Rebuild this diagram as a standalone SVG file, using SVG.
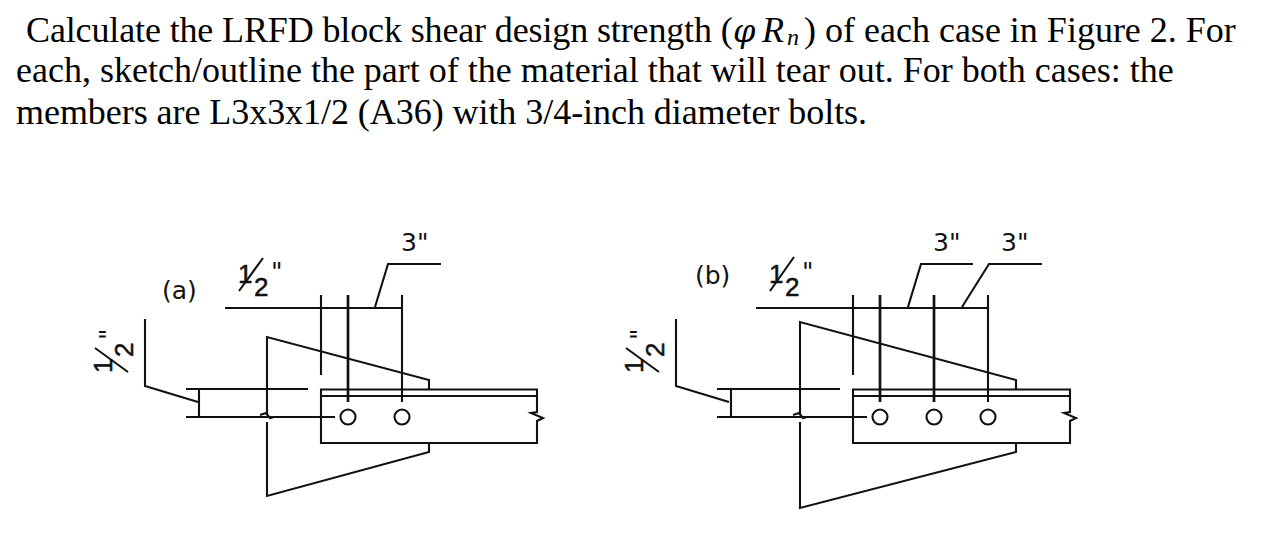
<svg xmlns="http://www.w3.org/2000/svg" width="1280" height="538" viewBox="0 0 1280 538">
<style>
.q{font-family:"Liberation Serif","Times New Roman",serif;font-size:36px;fill:#000}
.m{font-style:italic}
.d{font-family:"DejaVu Sans",sans-serif;fill:#111;font-size:25px}
.o{font-family:"Liberation Sans",Arial,sans-serif;fill:#111;font-size:26px;stroke:#111;stroke-width:.5}
.s{fill:none;stroke:#111;stroke-width:2.1}
.h{fill:none;stroke:#111;stroke-width:2.7}
</style>
<rect width="1280" height="538" fill="#fff"/>
<g id="question">
<text class="q" x="26" y="42" letter-spacing="-0.13">Calculate the LRFD block shear design strength (<tspan class="m" x="733" font-size="32" font-family="DejaVu Serif">φ</tspan><tspan class="m" x="762">R</tspan><tspan class="m" font-size="24" x="787" dy="3">n</tspan><tspan x="804" dy="-3" letter-spacing="0">) of each case in Figure 2. For</tspan></text>
<text class="q" x="16" y="82">each, sketch/outline the part of the material that will tear out. For both cases: the</text>
<text class="q" x="16" y="124" letter-spacing="-0.05">members are L3x3x1/2 (A36) with 3/4-inch diameter bolts.</text>
</g>
<g id="case-a">
<g id="a-gusset" class="s"><path d="M429 389V380L267 337V415M267 422V496L429 452V443"/><path d="M260 415L266 413L270 418L274 417"/></g>
<g id="a-angle" class="s"><path d="M321 389.5H537V412L531 413L543 418L537 421V443H321ZM321 396H537"/></g>
<g id="a-beam" class="s"><path d="M186 389H308M186 417H335M199 389V417"/></g>
<g id="a-bolts" class="s"><circle cx="348" cy="417" r="7.5"/><circle cx="402" cy="417" r="7.5"/></g>
<g id="a-dims"><path class="s" d="M225 308H402M375 307L388 264H441M145 319V386L198 402"/><path class="s" d="M321 295V375M402 295V402"/><path class="h" d="M348 295V402"/></g>
<g id="a-labels">
<text class="d" x="162" y="299">(a)</text>
<text class="d" x="401" y="251">3"</text>
<g><text class="o" x="238" y="283">1</text><path class="s" d="M239 291L263 258"/><text class="o" x="254" y="296">2</text><text class="d" x="271" y="280" font-size="16">"</text></g>
<g transform="rotate(-90 113 353)"><text class="o" x="93" y="352">1</text><path class="s" d="M94 368L118 335"/><text class="o" x="109" y="373">2</text><text class="d" x="126" y="357" font-size="16">"</text></g>
</g>
</g>
<g id="case-b">
<g id="b-gusset" class="s"><path d="M1016 389V380L800 322V415M800 422V508L1016 452V443"/><path d="M793 415L799 413L803 418L807 417"/></g>
<g id="b-angle" class="s"><path d="M853 389.5H1070V412L1064 413L1076 418L1070 421V443H853ZM853 396H1070"/></g>
<g id="b-beam" class="s"><path d="M717 389H840M717 417H867M731 389V417"/></g>
<g id="b-bolts" class="s"><circle cx="880" cy="417" r="7.5"/><circle cx="934" cy="417" r="7.5"/><circle cx="988" cy="417" r="7.5"/></g>
<g id="b-dims"><path class="s" d="M756 308H988M908 307L921 264H973M962 307L989 264H1042M676 319V386L729 402"/><path class="s" d="M853 295V375M988 295V402"/><path class="h" d="M880 295V402M934 295V402"/></g>
<g id="b-labels">
<text class="d" x="695" y="284">(b)</text>
<text class="d" x="933" y="251">3"</text>
<text class="d" x="1001" y="251">3"</text>
<g><text class="o" x="769" y="283">1</text><path class="s" d="M770 291L794 257"/><text class="o" x="785" y="296">2</text><text class="d" x="802" y="280" font-size="16">"</text></g>
<g transform="rotate(-90 644 353)"><text class="o" x="624" y="352">1</text><path class="s" d="M625 368L649 335"/><text class="o" x="640" y="373">2</text><text class="d" x="657" y="357" font-size="16">"</text></g>
</g>
</g>
</svg>
